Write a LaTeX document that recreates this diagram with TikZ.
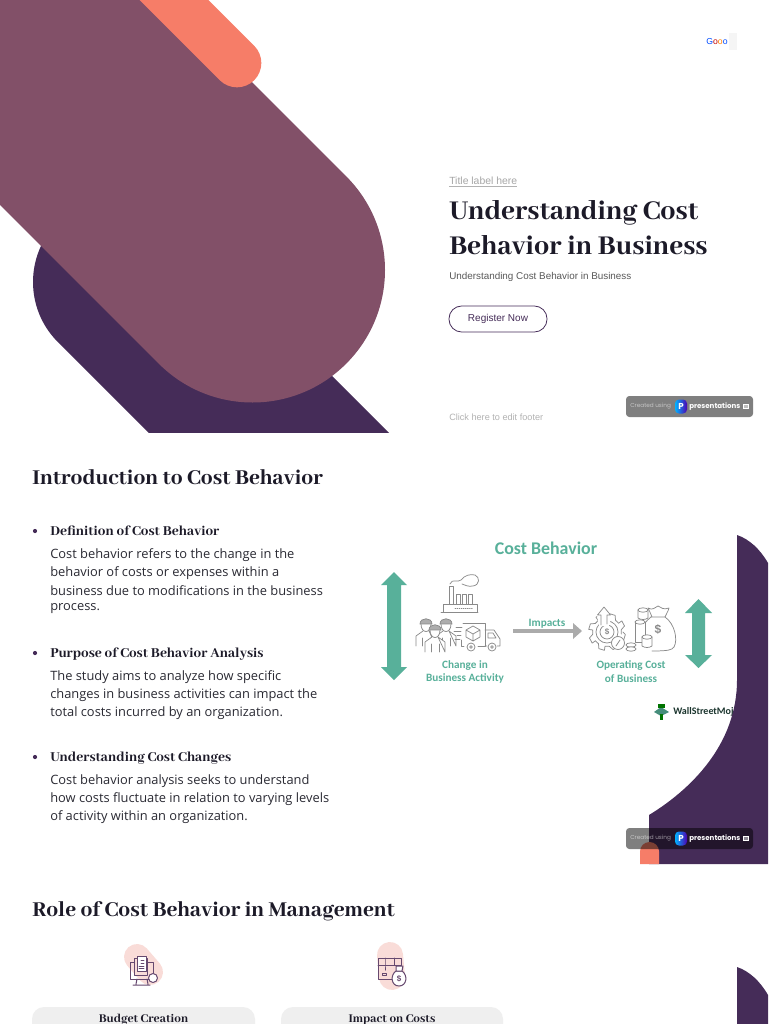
\documentclass[tikz,border=0pt]{standalone}
\usepackage{fontspec}
\setmainfont{Liberation Sans}
\newfontfamily\headfont{Abhaya Libre ExtraBold}
\newfontfamily\bodyfont{Liberation Sans}
\newfontfamily\parafont{Open Sans}
\newfontfamily\imgfont{Carlito}
\newfontfamily\badgefont{Poppins}
\usetikzlibrary{calc}
\definecolor{plum}{HTML}{825068}
\definecolor{deep}{HTML}{452C58}
\definecolor{coral}{HTML}{F67D68}
\definecolor{ink}{HTML}{1C1A28}
\definecolor{bodyink}{HTML}{2A2A33}
\definecolor{teal}{HTML}{58B09A}
\definecolor{icong}{HTML}{8A8A8A}
\definecolor{blush}{HTML}{F9DCD8}
\definecolor{iconp}{HTML}{66496F}
\definecolor{cardg}{HTML}{EFEFEF}
\tikzset{
 x=0.75pt,y=-0.75pt,
 lefttext/.style={anchor=west,inner sep=0pt,text=#1},
 title/.style={lefttext=ink,font=\headfont\fontsize{17.5}{20}\selectfont},
 bigtitle/.style={lefttext=ink,font=\headfont\fontsize{22.4}{26}\selectfont},
 bhead/.style={lefttext=ink,font=\headfont\fontsize{11.25}{13}\selectfont},
 btext/.style={lefttext=bodyink,font=\parafont\fontsize{9.65}{13.5}\selectfont},
 imglabel/.style={inner sep=0pt,text=teal,font=\imgfont\bfseries\fontsize{8.4}{10}\selectfont},
 icon/.style={draw=icong,line width=0.55pt,line join=round,line cap=round},
 picon/.style={draw=iconp,line width=0.75pt,line join=round,line cap=round},
 card/.style={fill=cardg,rounded corners=9pt},
 cardtext/.style={inner sep=0pt,text=ink,font=\headfont\fontsize{9.8}{12}\selectfont},
 badge/.style={fill=black,fill opacity=0.5,rounded corners=2.5pt},
}
\newcommand{\dblarrow}[6]{%
 \fill[teal] (#1,#4) -- (#1+#2,#5) -- (#1+#3,#5) -- (#1+#3,#6) -- (#1+#2,#6) -- (#1,#6+13) -- (#1-#2,#6) -- (#1-#3,#6) -- (#1-#3,#5) -- (#1-#2,#5) -- cycle;}
\newcommand{\madebadge}[2]{%
 \fill[badge] (626,#1) rectangle (753,#2);
 \node[inner sep=0pt,anchor=west,text=white,text opacity=.55,font=\badgefont\fontsize{4.3}{6}\selectfont] (made#1) at (630,{(#1+#2)/2}) {Created using};
 \shade[left color=cyan!70!blue,right color=violet!60!blue,rounded corners=3pt] (675,{(#1+#2)/2-7}) rectangle (687,{(#1+#2)/2+7});
 \node[inner sep=0pt,text=white,font=\badgefont\bfseries\fontsize{6.5}{7}\selectfont] (pmark#1) at (681,{(#1+#2)/2}) {P};
 \node[inner sep=0pt,anchor=west,text=white,font=\badgefont\bfseries\fontsize{5.3}{7}\selectfont] (pres#1) at (689,{(#1+#2)/2}) {presentations};
 \draw[white,line width=.5pt,fill=white,fill opacity=.5] (743,{(#1+#2)/2-2}) rectangle (748,{(#1+#2)/2+2});}
\begin{document}
\begin{tikzpicture}
\useasboundingbox (0,0) rectangle (768,1024);
\fill[white] (0,0) rectangle (768,1024);
% ---------- slide 1 ----------
\begin{scope}
 \clip (0,0) rectangle (768,432);
 \draw[deep,line width=127.5pt,line cap=round] (118,282) -- (418,582);
 \draw[plum,line width=198.75pt,line cap=round] (252.5,270) -- (-97.5,-80);
 \draw[coral,line width=36.5pt,line cap=round] (237,63) -- (137,-37);
\end{scope}
\fill[black!4] (729,33) rectangle (737,50);
\node[inner sep=0pt,font=\bodyfont\fontsize{6.5}{7}\selectfont] (goog) at (717,41.5) {\textcolor{blue!70!cyan}{G}\textcolor{red!75!black}{o}\textcolor{orange}{o}\textcolor{blue!70!cyan}{o}};
\node[lefttext=black!35,font=\bodyfont\fontsize{7.8}{9}\selectfont] (label) at (449,181) {Title label here};
\draw[black!30,line width=.35pt] ($(label.south west)+(0,1)$) -- ($(label.south east)+(0,1)$);
\node[bigtitle] (t1a) at (449,212.5) {Understanding Cost};
\node[bigtitle] (t1b) at (449,245) {Behavior in Business};
\node[lefttext=black!65,font=\bodyfont\fontsize{7.4}{9}\selectfont] (sub) at (449,277) {Understanding Cost Behavior in Business};
\node[draw=deep,line width=.6pt,rounded corners=9.5pt,minimum width=73.5pt,minimum height=19.5pt,inner sep=0pt,text=deep,font=\bodyfont\fontsize{7.5}{9}\selectfont] (register) at (498,319) {\raisebox{-.75pt}{Register Now}};
\node[lefttext=black!30,font=\bodyfont\fontsize{6.85}{9}\selectfont] (foot) at (449,417) {Click here to edit footer};
\madebadge{396}{417}
% ---------- slide 2 ----------
\node[title] (t2) at (32,477) {Introduction to Cost Behavior};
\foreach \yy in {531,653,757} \fill[deep] (35,\yy) circle[radius=2.1];
\node[bhead] (h1) at (50,531) {Definition of Cost Behavior};
\node[btext] (b1a) at (50,555) {Cost behavior refers to the change in the};
\node[btext] (b1b) at (50,573) {behavior of costs or expenses within a};
\node[btext] (b1c) at (50,591) {business due to modifications in the business};
\node[btext] (b1d) at (50,609) {process.};
\node[bhead] (h2) at (50,654) {Purpose of Cost Behavior Analysis};
\node[btext] (b2a) at (50,677) {The study aims to analyze how specific};
\node[btext] (b2b) at (50,695) {changes in business activities can impact the};
\node[btext] (b2c) at (50,713) {total costs incurred by an organization.};
\node[bhead] (h3) at (50,758) {Understanding Cost Changes};
\node[btext] (b3a) at (50,781) {Cost behavior analysis seeks to understand};
\node[btext] (b3b) at (50,799) {how costs fluctuate in relation to varying levels};
\node[btext] (b3c) at (50,817) {of activity within an organization.};
% picture
\node[imglabel,font=\imgfont\bfseries\fontsize{13.4}{15}\selectfont] (cb) at (546,548) {Cost Behavior};
\dblarrow{394}{13}{7}{572}{585}{667}
\dblarrow{698.5}{13.5}{6.5}{599}{613}{655}
\node[imglabel] (l1) at (465,665.5) {Change in};
\node[imglabel] (l2) at (465,678.5) {Business Activity};
\node[imglabel] (l3) at (631,665.5) {Operating Cost};
\node[imglabel] (l4) at (631,678.5) {of Business};
\node[imglabel] (imp) at (547,623.5) {Impacts};
\coordinate (from) at (513,631);
\coordinate (to) at (582,631);
\draw[black!33,line width=3pt] (from) -- (574,631);
\fill[black!33] (573,623) -- (to) -- (573,639) -- cycle;
% factory
\draw[icon] (441,612) -- (478,612) (443,612) -- (443,604) -- (477,604) -- (477,612);
\draw[icon] (449,604) -- (449,586) -- (453,586) -- (453,604);
\draw[icon] (456,604) -- (456,594) -- (460,594) -- (460,604) (462,604) -- (462,594) -- (466,594) -- (466,604) (468,604) -- (468,594) -- (472,594) -- (472,604);
\draw[icon] (450,584) .. controls (452,578) and (458,583) .. (461,580) .. controls (465,575) and (470,574) .. (475,575) .. controls (480,577) and (480,585) .. (473,586) .. controls (468,587) and (465,585) .. (462,584);
\draw[icon,densely dotted] (455,608) -- (473,608);
% workers
\foreach \hx/\hy in {426/623,446/623,435/629}{
 \fill[white] (\hx-10,\hy+26) -- (\hx-10,\hy+13) -- (\hx-3,\hy+8) -- (\hx+3,\hy+8) -- (\hx+10,\hy+13) -- (\hx+10,\hy+26) -- cycle;
 \draw[icon] (\hx-10,\hy+23) -- (\hx-10,\hy+13) -- (\hx-3,\hy+8) (\hx+3,\hy+8) -- (\hx+10,\hy+13) -- (\hx+10,\hy+23) -- cycle;
 \draw[icon,fill=white] (\hx-5,\hy+1) .. controls (\hx-5,\hy+11) and (\hx+5,\hy+11) .. (\hx+5,\hy+1);
 \draw[icon,fill=icong!70] (\hx-6,\hy+1) .. controls (\hx-6,\hy-6) and (\hx+6,\hy-6) .. (\hx+6,\hy+1) -- cycle;
 \draw[icon] (\hx-4,\hy+15) -- (\hx-4,\hy+23) (\hx+4,\hy+15) -- (\hx+4,\hy+23);
}
% truck
\draw[icon] (463,623) -- (485,623) -- (485,646) -- (478,646) (464,646) -- (461,646) -- (461,640);
\draw[icon] (485,630) -- (494,630) -- (500,639) -- (500,646) -- (497,646) (487,646) -- (485,646);
\draw[icon] (488,633) -- (493,633) -- (496,638) -- (488,638) -- cycle;
\draw[icon] (473,626) -- (480,630) -- (480,637) -- (473,641) -- (466,637) -- (466,630) -- cycle (466,630) -- (473,634) -- (480,630) (473,634) -- (473,641);
\draw[icon] (471,647) circle[radius=4] (492,647) circle[radius=4] (471,647) circle[radius=1.4] (492,647) circle[radius=1.4];
\draw[icon] (456,627) -- (462,627) (454,631) -- (461,631) (457,635) -- (461,635) (455,639) -- (460,639);
% gear
\draw[icon] (607,632) ++(0:16)
 \foreach \a in {0,45,...,315}{ -- ++(0,0) -- ($(607,632)+(\a+8:18.5)$) -- ($(607,632)+(\a+26:18.5)$) -- ($(607,632)+(\a+36:14.5)$) -- ($(607,632)+(\a+53:14.5)$)};
\fill[white] (607,632) circle[radius=12];
\draw[icon] (607,632) circle[radius=11] (607,632) circle[radius=7];
\node[inner sep=0pt,text=icong,font=\bodyfont\bfseries\fontsize{6}{7}\selectfont] (gd) at (607,632) {\$};
\fill[white] (604,606) -- (611,615) -- (609,626) -- (599,626) -- (597,615) -- cycle;
\draw[icon] (601,625) -- (601,615) -- (597.5,615) -- (604,607) -- (610.5,615) -- (607,615) -- (607,624);
\draw[icon,fill=white] (618,643) circle[radius=6.5];
\draw[icon] (616,646) -- (620,640);
% coins and bag
\draw[icon] (665,617) .. controls (675,624) and (678,640) .. (674,647) .. controls (672,650) and (668,651) .. (652,651);
\draw[icon] (651,617) .. controls (648,619) and (647,621) .. (645,623);
\draw[icon] (651,617) -- (665,617) (652,617) .. controls (650,612) and (649,610) .. (648,608) .. controls (653,611) and (655,607) .. (658,606) .. controls (661,608) and (664,610) .. (669,608) .. controls (668,612) and (666,614) .. (665,617);
\node[inner sep=0pt,text=icong,font=\bodyfont\bfseries\fontsize{9}{10}\selectfont] (bd) at (658,629) {\$};
\draw[icon,fill=white] (635,622) -- (635,642) -- (645,642) -- (645,622);
\draw[icon,fill=white] (640,622) ellipse[x radius=5,y radius=2.2];
\draw[icon,fill=white] (638,610) -- (638,618) .. controls (641,620) and (645,620) .. (648,618) -- (648,610);
\draw[icon,fill=white] (643,610) ellipse[x radius=5,y radius=2.2];
\draw[icon,fill=white] (642,637) -- (642,646) .. controls (645,648) and (649,648) .. (652,646) -- (652,637);
\draw[icon,fill=white] (647,637) ellipse[x radius=5,y radius=2.2];
\draw[icon,fill=white] (631,645) ellipse[x radius=5,y radius=2.2];
\draw[icon,fill=white] (631,649) ellipse[x radius=5,y radius=2.2];
% logo
\fill[teal!80!black] (654,712) -- (661,707) -- (669,712) -- (661,716) -- cycle;
\fill[green!45!black] (658,704) rectangle (665,708);
\fill[green!45!black] (660,714) rectangle (663,720);
\node[lefttext=black!70!teal,font=\imgfont\bfseries\fontsize{7.5}{9}\selectfont] (wsm) at (673,711.5) {WallStreetMojo};
% right panel
\fill[deep] (737,535) .. controls (749,539) and (760,549) .. (768,563) -- (768,864) -- (649,864) -- (649,815)
 .. controls (690,790) and (737,745) .. (737,680) -- cycle;
\fill[coral] (640,864) -- (640,851.5) arc[start angle=180,end angle=360,radius=9.5] -- (659,864) -- cycle;
\madebadge{828}{849}
% ---------- slide 3 ----------
\node[title] (t3) at (32,911) {Role of Cost Behavior in Management};
\draw[blush,line width=19.5pt,line cap=round] (137,957) -- (150,972);
\draw[blush,line width=19.5pt,line cap=round] (390,955) -- (392,977);
% budget icon
\draw[picon] (130,962) rectangle (153,979);
\draw[picon] (137,979) -- (136,984) (147,979) -- (148,984) (133,985) -- (150,985);
\draw[picon,fill=blush] (134,958) rectangle (147,975);
\draw[picon,fill=white] (137,956) rectangle (146,971);
\draw[picon,line width=.5pt] (141,960) -- (144,960) (141,963) -- (144,963) (139,966) -- (144,966) (139,968.5) -- (144,968.5);
\draw[picon,fill=white] (153,978) circle[radius=4.5];
% cost icon
\draw[picon] (378,958) rectangle (401,979);
\draw[picon] (378,965) -- (401,965) (385,958) -- (385,965) -- (385,970) (394,958) -- (394,965);
\draw[picon] (382,973) rectangle (386,975);
\draw[picon,fill=white] (396,971) .. controls (390,975) and (391,986) .. (399,986) .. controls (407,986) and (408,975) .. (402,971) -- cycle;
\draw[picon,fill=white] (396,966) -- (403,966) -- (402,971) -- (396,971) -- cycle;
\node[inner sep=0pt,text=iconp,font=\bodyfont\bfseries\fontsize{6}{7}\selectfont] (bag3) at (399,979) {\$};
\fill[card] (32,1007) rectangle (255,1040);
\fill[card] (281,1007) rectangle (503,1040);
\node[cardtext] (c1) at (143.5,1020) {Budget Creation};
\node[cardtext] (c2) at (392,1020) {Impact on Costs};
\fill[deep] (737,967) .. controls (749,971) and (760,981) .. (768,995) -- (768,1024) -- (737,1024) -- cycle;
\end{tikzpicture}
\end{document}
